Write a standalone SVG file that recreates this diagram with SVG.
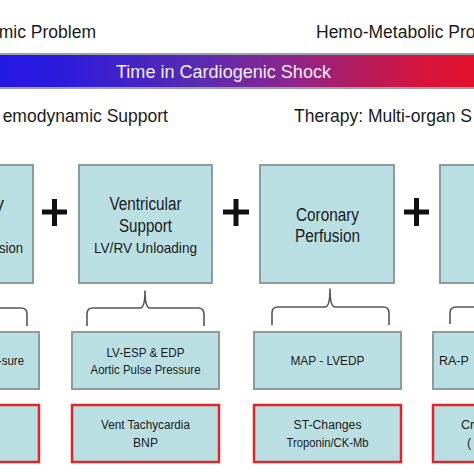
<svg xmlns="http://www.w3.org/2000/svg" width="474" height="474" viewBox="0 0 474 474">
<defs>
<linearGradient id="timeGrad" x1="0" y1="0" x2="1" y2="0">
<stop offset="0" stop-color="#2418e4"/>
<stop offset="0.12" stop-color="#2a1ade"/>
<stop offset="0.42" stop-color="#5a2bb2"/>
<stop offset="0.6" stop-color="#8a2590"/>
<stop offset="0.77" stop-color="#b81a58"/>
<stop offset="0.9" stop-color="#d8133a"/>
<stop offset="1" stop-color="#e2102a"/>
</linearGradient>
<style>
text{font-family:"Liberation Sans",Arial,Helvetica,sans-serif;fill:#1a1a1a}
.lbl{font-size:17.5px}
.bar{font-size:17.5px;fill:#f4eefc}
.t1{font-size:18px}
.t2{font-size:15px}
.t3{font-size:12.5px}
.box{fill:#b9dfe3;stroke:#8c9b9c;stroke-width:2}
.rbox{fill:#b9dfe3;stroke:#e0262a;stroke-width:2.5}
.brace{fill:none;stroke:#555;stroke-width:1.6;stroke-linejoin:round}
.plus{stroke:#111;stroke-width:5;fill:none}
</style>
</defs>
<rect width="474" height="474" fill="#fff"/>

<g id="headers">
<text class="lbl" x="96" y="38" text-anchor="end">mic Problem</text>
<text class="lbl" x="316" y="38">Hemo-Metabolic Pro</text>
<text class="lbl" x="168" y="122" text-anchor="end">emodynamic Support</text>
<text class="lbl" x="294" y="122">Therapy: Multi-organ S</text>
</g>

<g id="timebar">
<rect x="-2" y="54" width="478" height="34" fill="url(#timeGrad)" stroke="#9aa3ab" stroke-width="2"/>
<text class="bar" x="223.5" y="78" text-anchor="middle" textLength="215" lengthAdjust="spacingAndGlyphs">Time in Cardiogenic Shock</text>
</g>

<g id="connectors">
<path class="plus" d="M42,212H67M54.5,199V226"/>
<path class="plus" d="M223,212H249M236,199V226"/>
<path class="plus" d="M404,212H429M416.5,198V226"/>
<path class="brace" d="M-97,326V314Q-97,308-91,308H-41Q-36,308-36,291Q-36,308-31,308H21Q27,308,27,314V326"/>
<path class="brace" d="M87,326V314Q87,308,93,308H140Q145,308,145,291Q145,308,150,308H198Q204,308,204,314V326"/>
<path class="brace" d="M272,325V313Q272,307,278,307H325Q330,307,330,289Q330,307,335,307H383Q389,307,389,313V325"/>
<path class="brace" d="M450,324V313Q450,307,456,307H503Q508,307,508,289Q508,307,513,307H561Q567,307,567,313V324"/>
</g>

<g id="node-left-top">
<rect class="box" x="-100" y="165" width="133" height="118"/>
<text class="t1" x="4" y="210" text-anchor="end">y</text>
<text class="t2" x="23" y="253" text-anchor="end" textLength="24" lengthAdjust="spacingAndGlyphs">sion</text>
</g>
<g id="node-ventricular">
<rect class="box" x="79" y="165" width="133" height="118"/>
<text class="t1" x="145.5" y="210" text-anchor="middle" textLength="72" lengthAdjust="spacingAndGlyphs">Ventricular</text>
<text class="t1" x="145.5" y="232" text-anchor="middle" textLength="53" lengthAdjust="spacingAndGlyphs">Support</text>
<text class="t2" x="145.5" y="253" text-anchor="middle" textLength="103" lengthAdjust="spacingAndGlyphs">LV/RV Unloading</text>
</g>
<g id="node-coronary">
<rect class="box" x="260" y="165" width="134" height="118"/>
<text class="t1" x="327.5" y="221" text-anchor="middle" textLength="63" lengthAdjust="spacingAndGlyphs">Coronary</text>
<text class="t1" x="327.5" y="242" text-anchor="middle" textLength="65" lengthAdjust="spacingAndGlyphs">Perfusion</text>
</g>
<g id="node-right-top">
<rect class="box" x="440" y="165" width="134" height="118"/>
</g>

<g id="node-left-mid">
<rect class="box" x="-108" y="332" width="147" height="57"/>
<text class="t3" x="24" y="365" text-anchor="end" textLength="26" lengthAdjust="spacingAndGlyphs">-sure</text>
</g>
<g id="node-lvesp">
<rect class="box" x="72" y="332" width="147" height="57"/>
<text class="t3" x="145.5" y="357" text-anchor="middle" textLength="78" lengthAdjust="spacingAndGlyphs">LV-ESP &amp; EDP</text>
<text class="t3" x="145.5" y="374" text-anchor="middle" textLength="110" lengthAdjust="spacingAndGlyphs">Aortic Pulse Pressure</text>
</g>
<g id="node-map">
<rect class="box" x="254" y="332" width="147" height="57"/>
<text class="t3" x="327.5" y="365" text-anchor="middle" textLength="74" lengthAdjust="spacingAndGlyphs">MAP - LVEDP</text>
</g>
<g id="node-right-mid">
<rect class="box" x="433" y="332" width="147" height="57"/>
<text class="t3" x="439" y="365">RA-P</text>
</g>

<g id="node-left-bot">
<rect class="rbox" x="-108" y="405" width="147" height="57"/>
</g>
<g id="node-vent">
<rect class="rbox" x="72" y="405" width="147" height="57"/>
<text class="t3" x="145.5" y="429" text-anchor="middle" textLength="89" lengthAdjust="spacingAndGlyphs">Vent Tachycardia</text>
<text class="t3" x="145.5" y="447" text-anchor="middle" textLength="25" lengthAdjust="spacingAndGlyphs">BNP</text>
</g>
<g id="node-st">
<rect class="rbox" x="254" y="405" width="147" height="57"/>
<text class="t3" x="327.5" y="429" text-anchor="middle" textLength="68" lengthAdjust="spacingAndGlyphs">ST-Changes</text>
<text class="t3" x="327.5" y="447" text-anchor="middle" textLength="82" lengthAdjust="spacingAndGlyphs">Troponin/CK-Mb</text>
</g>
<g id="node-right-bot">
<rect class="rbox" x="433" y="405" width="147" height="57"/>
<text class="t3" x="461" y="429">Cr</text>
<text class="t3" x="467" y="447">(</text>
</g>
</svg>
